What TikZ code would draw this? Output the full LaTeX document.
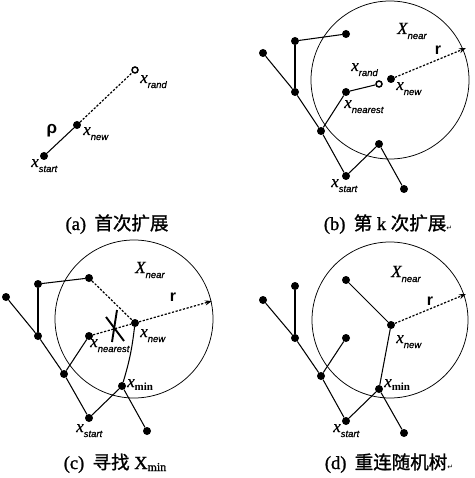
\documentclass[tikz,border=0pt]{standalone}
\usepackage{fontspec}
\setmainfont{Liberation Serif}
\setsansfont{Liberation Sans}
\newfontfamily\cjk[FakeBold=1.2]{Noto Sans CJK SC}
\newfontfamily\djv{DejaVu Sans}
\newfontfamily\xf[FakeBold=0.6]{Liberation Serif Italic}
\newfontfamily\subf[FakeBold=0.8]{Liberation Sans Italic}
\newfontfamily\capf[FakeBold=1.2]{Liberation Serif}
\usetikzlibrary{arrows.meta}
\newcommand{\xl}[1]{{\xf\fontsize{17}{17}\selectfont x}\raisebox{-5pt}{\subf\fontsize{9.5}{9.5}\selectfont #1}}
\newcommand{\xm}{{\xf\fontsize{17}{17}\selectfont x}\raisebox{-3pt}{\fontsize{11}{11}\selectfont\bfseries min}}
\newcommand{\Xn}{{\xf\fontsize{17}{17}\selectfont X}\raisebox{-5pt}{\subf\fontsize{9.5}{9.5}\selectfont near}}
\newcommand{\rr}{{\fontsize{16}{16}\selectfont\sffamily\bfseries r}}
\newcommand{\ret}{{\djv\fontsize{7}{7}\selectfont ↵}}
\tikzset{
  dot/.style={circle,fill=black,minimum size=8pt,inner sep=0pt},
  odot/.style={circle,draw=black,line width=1.5pt,fill=white,minimum size=6pt,inner sep=0pt},
  edge/.style={line width=1.05pt},
  dsh/.style={line width=1.2pt,dash pattern=on 2.2pt off 1.6pt},
  ring/.style={line width=0.75pt,draw=black},
  lab/.style={anchor=base west,inner sep=0pt},
  captxt/.style={anchor=base,inner sep=0pt,font=\capf\fontsize{18.5}{18.5}\selectfont},
  tip/.style={-{Stealth[length=7pt,width=5pt]}}
}
\begin{document}
\begin{tikzpicture}[x=1pt,y=-1pt]
\useasboundingbox (0,0) rectangle (474,478);
% ---------- (a)
\node[dot] (as) at (44,156) {};
\node[dot] (an) at (77,125) {};
\node[odot] (ar) at (135,70) {};
\draw[edge] (as) -- (an);
\draw[dsh] (an) -- (ar);
\node[inner sep=0pt] (arho) at (52,131) {\fontsize{17}{17}\selectfont\sffamily\bfseries ρ};
\node[lab] (lan) at (83,135) {\xl{new}};
\node[lab] (lar) at (140,83) {\xl{rand}};
\node[lab] (las) at (31,167) {\xl{start}};
\node[captxt] (capa) at (117,230) {(a)\hspace{0.45em}{\cjk 首次扩展}};
% ---------- (b)
\draw[ring] (390,80) circle (79);
\node[dot] (bA) at (263,53) {};
\node[dot] (bB) at (295,41) {};
\node[dot] (bC) at (346,34) {};
\node[dot] (bD) at (295,92) {};
\node[dot] (bE) at (321,131) {};
\node[dot] (bF) at (346,92) {};
\node[odot] (bG) at (379,84) {};
\node[dot] (bH) at (391,79) {};
\node[dot] (bI) at (346,176) {};
\node[dot] (bJ) at (379,144) {};
\node[dot] (bK) at (404,189) {};
\coordinate (bR) at (466,48);
\draw[edge] (bA) -- (bD);
\draw[edge] (bB) -- (bC);
\draw[edge] (bB) -- (bD);
\draw[edge] (bD) -- (bE);
\draw[edge] (bE) -- (bI);
\draw[edge] (bE) -- (bF);
\draw[edge] (bF) -- (bG);
\draw[edge] (bI) -- (bJ);
\draw[edge] (bJ) -- (bK);
\draw[dsh,tip] (bH) -- (bR);
\node[lab] (bXn) at (397,34) {\Xn};
\node[inner sep=0pt] (br) at (438,50) {\rr};
\node[lab] (blr) at (351,71) {\xl{rand}};
\node[lab] (bln) at (396,90) {\xl{new}};
\node[lab] (blf) at (344,108) {\xl{nearest}};
\node[lab] (bls) at (331,187) {\xl{start}};
\node[captxt] (capb) at (388,230) {(b)\hspace{0.45em}{\cjk 第}\hspace{0.25em}k\hspace{0.25em}{\cjk 次扩展}\ret};
% ---------- (c)
\draw[ring] (134,319) circle (79);
\node[dot] (cA) at (6,297) {};
\node[dot] (cB) at (38,284) {};
\node[dot] (cC) at (89,278) {};
\node[dot] (cD) at (38,336) {};
\node[dot] (cE) at (64,374) {};
\node[dot] (cF) at (89,336) {};
\node[dot] (cN) at (135,323) {};
\node[dot] (cM) at (122,386) {};
\node[dot] (cS) at (89,418) {};
\node[dot] (cK) at (147,431) {};
\coordinate (cR) at (212,301);
\coordinate (cX1) at (106,317);
\coordinate (cX2) at (124,341);
\coordinate (cX3) at (117,310);
\coordinate (cX4) at (112,342);
\draw[edge] (cA) -- (cD);
\draw[edge] (cB) -- (cC);
\draw[edge] (cB) -- (cD);
\draw[edge] (cD) -- (cE);
\draw[edge] (cE) -- (cS);
\draw[edge] (cE) -- (cF);
\draw[edge] (cS) -- (cM);
\draw[edge] (cM) -- (cK);
\draw[edge] (cM) to[bend right=5] (cN);
\draw[dsh] (cC) -- (cN);
\draw[dsh] (cF) -- (cN);
\draw[dsh,tip] (cN) -- (cR);
\draw[line width=1.9pt] (cX1) -- (cX2);
\draw[line width=1.9pt] (cX3) -- (cX4);
\node[lab] (cXn) at (135,273) {\Xn};
\node[inner sep=0pt] (cr) at (173,297) {\rr};
\node[lab] (cln) at (140,337) {\xl{new}};
\node[lab] (clf) at (90,347) {\xl{nearest}};
\node[lab] (clm) at (127,387) {\xm};
\node[lab] (cls) at (76,432) {\xl{start}};
\node[captxt] (capc) at (115,469) {(c)\hspace{0.45em}{\cjk 寻找}\hspace{0.25em}X\raisebox{-2pt}{\fontsize{12}{12}\selectfont min}};
% ---------- (d)
\draw[ring] (390,320) circle (78);
\node[dot] (dA) at (263,300) {};
\node[dot] (dB) at (295,286) {};
\node[dot] (dC) at (346,280) {};
\node[dot] (dD) at (295,338) {};
\node[dot] (dE) at (321,376) {};
\node[dot] (dF) at (346,338) {};
\node[dot] (dN) at (391,325) {};
\node[dot] (dM) at (379,389) {};
\node[dot] (dS) at (346,421) {};
\node[dot] (dK) at (404,433) {};
\coordinate (dR) at (466,294);
\draw[edge] (dA) -- (dD);
\draw[edge] (dB) -- (dD);
\draw[edge] (dD) -- (dE);
\draw[edge] (dE) -- (dS);
\draw[edge] (dE) -- (dF);
\draw[edge] (dC) -- (dN);
\draw[edge] (dN) -- (dM);
\draw[edge] (dS) -- (dM);
\draw[edge] (dM) -- (dK);
\draw[dsh,tip] (dN) -- (dR);
\node[lab] (dXn) at (391,277) {\Xn};
\node[inner sep=0pt] (dr) at (430,301) {\rr};
\node[lab] (dln) at (396,343) {\xl{new}};
\node[lab] (dlm) at (384,387) {\xm};
\node[lab] (dls) at (333,432) {\xl{start}};
\node[captxt] (capd) at (389,469) {(d)\hspace{0.45em}{\cjk 重连随机树}\ret};
\end{tikzpicture}
\end{document}
